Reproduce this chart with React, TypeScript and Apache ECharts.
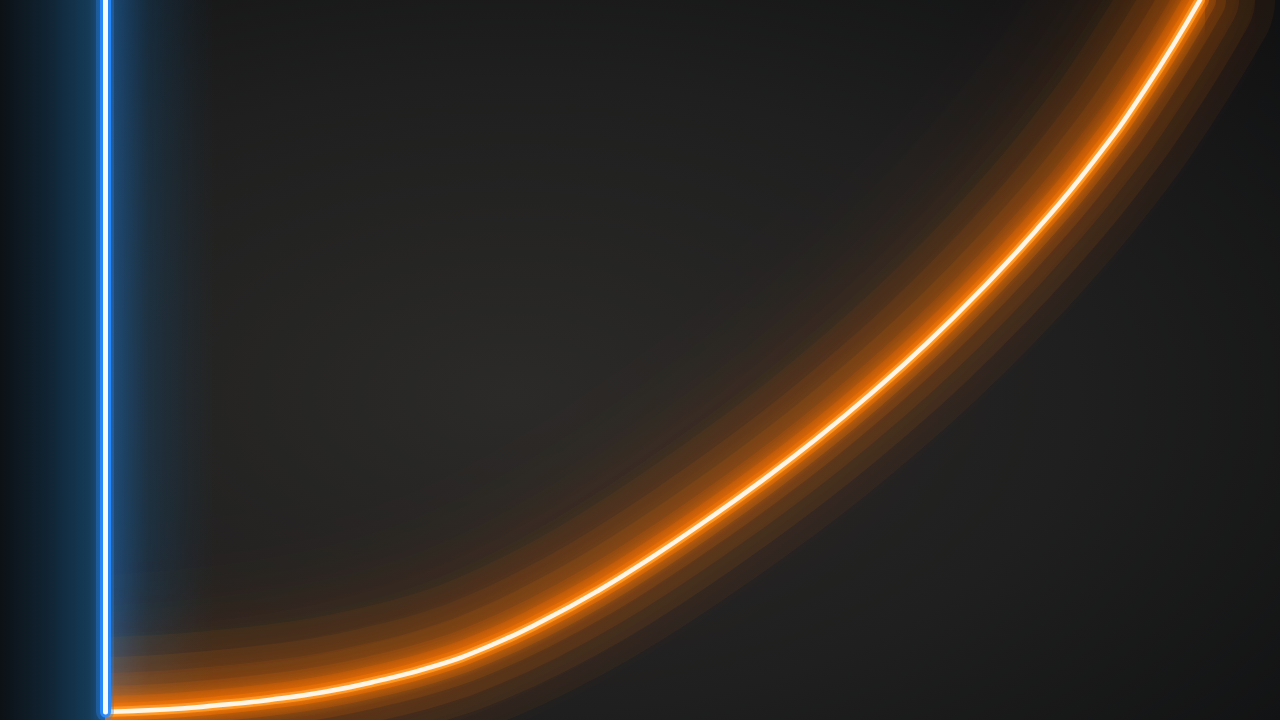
import React, { useEffect, useRef } from 'react';
import * as echarts from 'echarts';

// growth curve (x = 0..10 in half steps, y as % of the axis height)
const xValues = [0, 0.5, 1, 1.5, 2, 2.5, 3, 3.5, 4, 4.5, 5, 5.5, 6, 6.5, 7, 7.5, 8, 8.5, 9, 9.5, 10];
const yValues = [
  0, 0.3, 0.9, 1.7, 2.8, 4.4, 6.4, 9.2, 12.8, 17.0, 21.8,
  27.0, 32.5, 38.4, 44.8, 51.7, 59.3, 67.6, 76.8, 87.5, 100,
];

const X_MAX = 10;
const Y_MAX = 100;

// glow layers around the curve: [width, fill alpha]
const glowLayers = [
  [150, 0.05],
  [110, 0.065],
  [78, 0.08],
  [52, 0.11],
  [32, 0.16],
  [18, 0.38],
];

export default function App() {
  const chartRef = useRef<HTMLDivElement>(null);

  useEffect(() => {
    if (!chartRef.current) return;
    const chart = echarts.init(chartRef.current, null, { renderer: 'svg' });

    const points = xValues.map((x, i) => [x, yValues[i]]);

    // straight axis lines cannot take an svg shadow, so the y axis glow is
    // built from stacked axis lines of decreasing width
    const axisLayer = (color: string, width: number) => ({
      type: 'value' as const,
      min: 0,
      max: Y_MAX,
      position: 'left' as const,
      offset: 0,
      z: 10,
      axisLine: { show: true, onZero: false, lineStyle: { color, width } },
      axisTick: { show: false },
      axisLabel: { show: false },
      splitLine: { show: false },
    });

    const curve = (
      color: string,
      width: number,
      blur: number,
      shadow: string,
      z: number,
      off = 0
    ) => ({
      type: 'line' as const,
      data: points,
      smooth: 0.5,
      showSymbol: false,
      silent: true,
      clip: false,
      z,
      lineStyle: {
        color,
        width,
        shadowBlur: blur,
        shadowColor: shadow,
        shadowOffsetX: -off,
        shadowOffsetY: -off,
        cap: 'round' as const,
      },
    });

    const glowSeries = glowLayers.map(([w, a]) =>
      curve(`rgba(255,118,0,${a})`, w, w * 0.6, 'rgba(255,110,0,1)', 1, w * 0.22)
    );

    chart.setOption({
      animation: false,
      backgroundColor: {
        type: 'radial',
        x: 0.4,
        y: 0.55,
        r: 0.8,
        colorStops: [
          { offset: 0, color: '#2b2a28' },
          { offset: 0.55, color: '#1f1f1f' },
          { offset: 1, color: '#101112' },
        ],
      },
      grid: { left: 105, right: 80, top: 0, bottom: 8 },
      xAxis: { type: 'value', min: 0, max: X_MAX, show: false },
      yAxis: [
        axisLayer('rgba(40,130,230,0.35)', 18),
        axisLayer('rgba(40,140,255,0.9)', 11),
        axisLayer('#f4fbff', 5),
      ],
      series: [
        ...glowSeries,
        curve('rgba(255,145,25,0.95)', 10, 18, '#ff7a00', 2),
        curve('#fff5e4', 4.5, 5, '#ffb050', 3),
      ],
    });

    // blue haze: an opaque band left of the y axis (it hides the orange glow
    // there) and a translucent fade to its right
    const [axisX] = chart.convertToPixel({ gridIndex: 0 }, [0, 0]) as number[];
    const h = chart.getHeight();
    chart.setOption({
      graphic: [
        {
          type: 'rect',
          z: 5,
          silent: true,
          shape: { x: 0, y: 0, width: axisX, height: h },
          style: {
            fill: new echarts.graphic.LinearGradient(0, 0, 1, 0, [
              { offset: 0, color: '#0c1115' },
              { offset: 0.45, color: '#102332' },
              { offset: 0.85, color: '#153b58' },
              { offset: 1, color: '#1b5690' },
            ]),
          },
        },
        {
          type: 'rect',
          z: -1,
          silent: true,
          shape: { x: axisX, y: 0, width: 110, height: h },
          style: {
            fill: new echarts.graphic.LinearGradient(0, 0, 1, 0, [
              { offset: 0, color: 'rgba(30,110,190,0.65)' },
              { offset: 0.4, color: 'rgba(20,75,120,0.35)' },
              { offset: 1, color: 'rgba(20,60,90,0)' },
            ]),
          },
        },
      ],
    });

    return () => {
      chart.dispose();
    };
  }, []);

  return (
    <div
      ref={chartRef}
      style={{ position: 'fixed', left: 0, top: 0, width: '1280px', height: '720px' }}
    />
  );
}
